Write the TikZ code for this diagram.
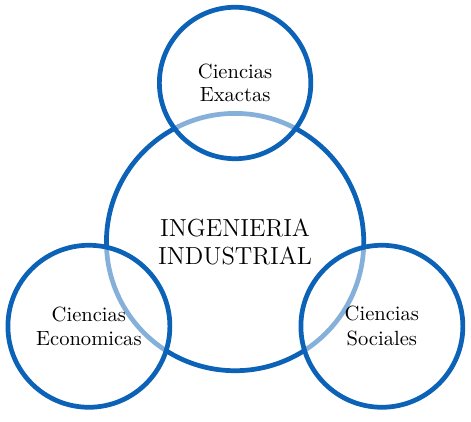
\documentclass[tikz,border=0pt]{standalone}
\definecolor{ringblue}{RGB}{12,98,182}
\tikzset{
    ring/.style={circle,draw=ringblue,line width=2.3pt,align=center,inner sep=0pt},
    subring/.style={ring,fill=white,fill opacity=0.5,text opacity=1}
}
\begin{document}
\begin{tikzpicture}
        \coordinate (BL) at (0,0);
        \coordinate (TR) at (8.054,7.199);
        \useasboundingbox (BL) rectangle (TR);
        \coordinate (C) at (4.02,3.06);
        % INGENIERIA INDUSTRIAL
        \node[ring,minimum size=4.40cm,font=\large] (core) at (C) {INGENIERIA\\INDUSTRIAL};
        % Exactas
        \node[subring,minimum size=2.59cm] (exact) at (4.02,5.78) {\raisebox{-0.12cm}{\shortstack{Ciencias\\[1pt]Exactas}}};
        % Economicas
        \node[subring,minimum size=2.77cm] (econ) at (1.52,1.62) {Ciencias\\Economicas};
        % Sociales
        \node[subring,minimum size=2.77cm] (social) at (6.53,1.62) {Ciencias\\Sociales};
    \end{tikzpicture}
\end{document}
